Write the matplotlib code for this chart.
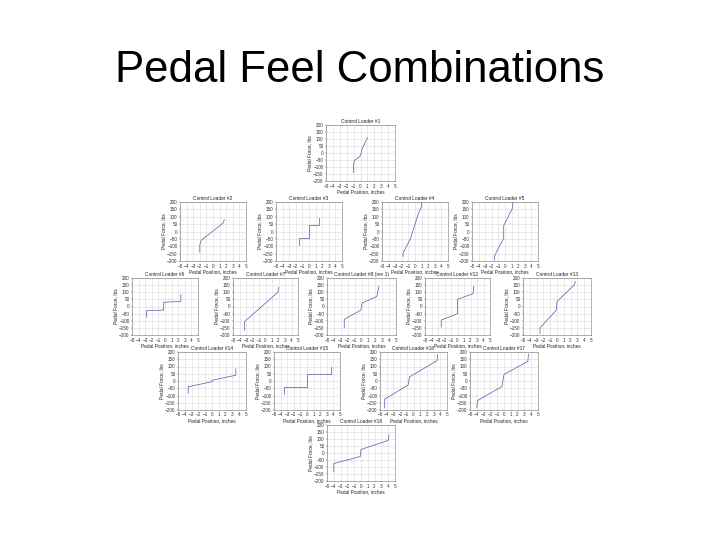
import matplotlib.pyplot as plt

plt.rcParams['font.family'] = ['Liberation Sans', 'DejaVu Sans']

# panel titles and force/position curves
titles = ['Control Loader #1', 'Control Loader #2', 'Control Loader #3', 'Control Loader #4',
          'Control Loader #5', 'Control Loader #6', 'Control Loader #7', 'Control Loader #8 (rev 1)',
          'Control Loader #12', 'Control Loader #13', 'Control Loader #14', 'Control Loader #15',
          'Control Loader #16', 'Control Loader #17', 'Control Loader #18']

pos_1 = [-1.0, -1.0, -0.8, 0.0, 0.1, 0.2, 1.0]
force_1 = [-140, -75, -50, -20, 0, 25, 110]
pos_2 = [-2.0, -2.0, -1.8, 1.6, 1.7]
force_2 = [-140, -90, -60, 60, 80]
pos_3 = [-1.5, -1.5, 0.0, 0.0, 1.5, 1.5]
force_3 = [-90, -45, -45, 45, 45, 90]
pos_4 = [-1.8, -1.8, -0.7, 0.5, 1.0, 1.0]
force_4 = [-170, -145, -50, 120, 170, 195]
pos_5 = [-1.6, -1.6, -1.2, -0.2, -0.2, 1.1, 1.2]
force_5 = [-195, -170, -130, -45, 40, 155, 200]
pos_6 = [-2.8, -2.8, -0.2, -0.2, 2.4, 2.4]
force_6 = [-75, -30, -25, 30, 35, 85]
pos_7 = [-3.2, -3.2, 1.9, 2.0]
force_7 = [-165, -105, 100, 135]
pos_8 = [-2.5, -2.5, -0.1, 0.1, 2.2, 2.5, 2.5]
force_8 = [-150, -90, -25, 25, 70, 130, 140]
pos_12 = [-2.5, -2.5, 0.0, 0.0, 2.4, 2.5]
force_12 = [-145, -95, -50, 50, 90, 140]
pos_13 = [-2.5, -2.5, -0.1, 0.0, 2.5, 2.7]
force_13 = [-190, -150, -25, 35, 150, 175]
pos_14 = [-3.5, -3.5, 0.0, 0.0, 3.5, 3.5]
force_14 = [-85, -40, -5, 5, 40, 85]
pos_15 = [-3.5, -3.5, 0.0, 0.0, 3.7, 3.7]
force_15 = [-88, -38, -38, 45, 45, 100]
pos_16 = [-4.3, -4.3, -0.8, -0.6, 3.5, 3.6]
force_16 = [-185, -125, -28, 28, 140, 180]
pos_17 = [-4.0, -3.9, -0.3, 0.0, 3.5, 3.6]
force_17 = [-185, -135, -38, 45, 135, 185]
pos_18 = [-4.0, -4.0, -0.1, 0.0, 4.0, 4.1]
force_18 = [-135, -75, -25, 25, 90, 130]

x_ticks = [-5, -4, -3, -2, -1, 0, 1, 2, 3, 4, 5]
y_ticks = [-200, -150, -100, -50, 0, 50, 100, 150, 200]

curves = [(pos_1, force_1), (pos_2, force_2), (pos_3, force_3), (pos_4, force_4),
          (pos_5, force_5), (pos_6, force_6), (pos_7, force_7), (pos_8, force_8),
          (pos_12, force_12), (pos_13, force_13), (pos_14, force_14), (pos_15, force_15),
          (pos_16, force_16), (pos_17, force_17), (pos_18, force_18)]

# axes boxes in slide pixels: left, top, right, bottom
boxes = [(326, 125, 395, 181),
         (180, 202, 246, 261), (276, 202, 342, 261), (382, 202, 448, 261), (472, 202, 538, 261),
         (132, 278, 198, 335), (233, 278, 298, 335), (327, 278, 396, 335), (425, 278, 490, 335),
         (523, 278, 591, 335),
         (178, 352, 246, 410), (274, 352, 340, 410), (380, 352, 447, 410), (470, 352, 538, 410),
         (327, 425, 395, 481)]

W, H = 720, 540
fig = plt.figure(figsize=(7.2, 5.4), dpi=100)
fig.text(0.5, 1 - 70 / H, 'Pedal Feel Combinations', ha='center', va='center', fontsize=31.5)

for t, (xs, ys), (l, tp, r, b) in zip(titles, curves, boxes):
    ax = fig.add_axes([l / W, 1 - b / H, (r - l) / W, (b - tp) / H])
    ax.plot(xs, ys, color='#6464b0', linewidth=0.55)
    ax.set_xlim(-5, 5)
    ax.set_ylim(-200, 200)
    ax.set_xticks(x_ticks)
    ax.set_yticks(y_ticks)
    ax.grid(True, color='#d8d8d8', linewidth=0.4)
    ax.tick_params(labelsize=3.3, length=1, width=0.3, pad=0.8, colors='#333333')
    for s in ax.spines.values():
        s.set_linewidth(0.4)
        s.set_color('#777777')
    ax.set_title(t, fontsize=3.5, pad=1.2, color='#222222')
    ax.set_xlabel('Pedal Position, inches', fontsize=3.4, labelpad=0.8, color='#222222')
    ax.set_ylabel('Pedal Force, lbs', fontsize=3.5, labelpad=0.5, color='#222222')

fig.savefig('out.png', dpi=100)
